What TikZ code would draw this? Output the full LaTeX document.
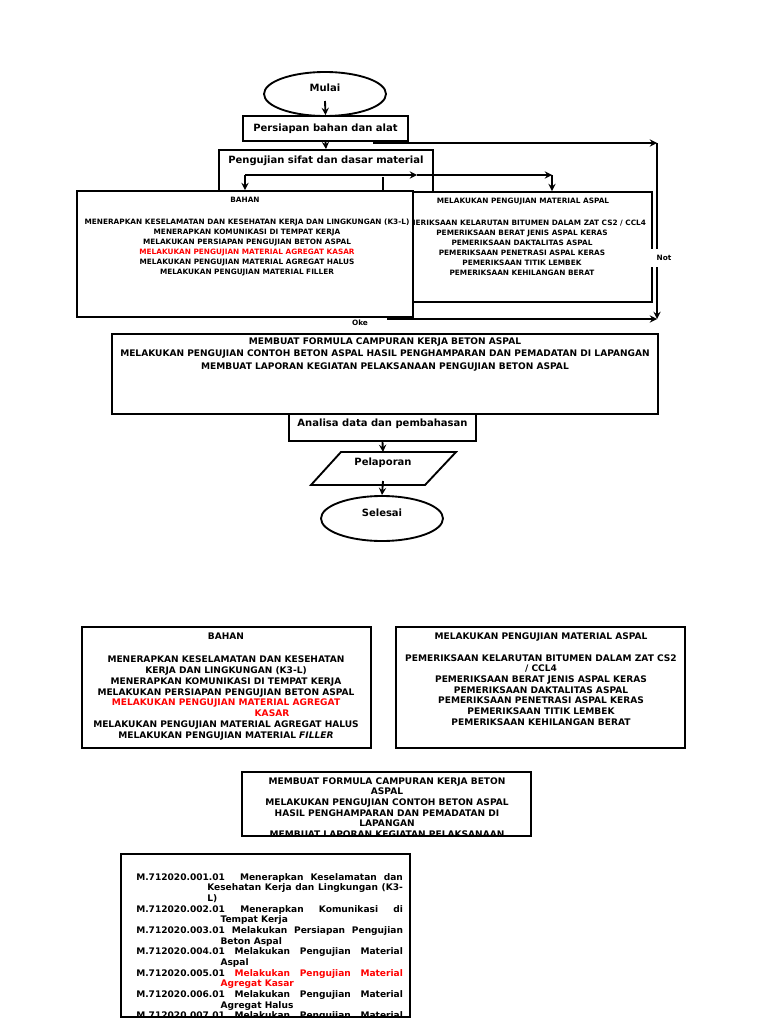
\documentclass[tikz,border=0pt]{standalone}
\usepackage{fontspec}
\setmainfont{DejaVu Sans}
\usetikzlibrary{shapes.geometric}

\tikzset{
  frame/.style={draw, line width=1.4pt, fill=white, inner sep=0pt},
  terminal/.style={draw, ellipse, line width=1.4pt, fill=white, inner sep=0pt},
  lbl/.style={font=\bfseries\fontsize{7.5}{9}\selectfont, inner sep=0pt, anchor=base},
  small/.style={font=\bfseries\fontsize{5.5}{7.4}\selectfont, inner sep=0pt, anchor=base, align=center},
  caps/.style={font=\bfseries\fontsize{6.8}{8.05}\selectfont, inner sep=0pt, anchor=base, align=center},
  codes/.style={font=\bfseries\fontsize{6.8}{8}\selectfont, inner sep=0pt, anchor=base west, align=left},
  arr/.style={line width=1.4pt, -stealth},
  conn/.style={line width=1.4pt},
}

\begin{document}
\begin{tikzpicture}[x=0.75pt, y=-0.75pt]
  \def\px{0.75pt}
  \useasboundingbox (0,0) rectangle (768,1024);

  % flowchart (multi-line texts sit on their last baseline)
  \node[terminal, minimum width=122*\px, minimum height=44*\px] (mulai) at (325,94) {};
  \node[lbl] (mulaiT) at (325,92) {Mulai};
  \node[frame, minimum width=165*\px, minimum height=25*\px] (persiapan) at (325.5,128.5) {};
  \node[lbl] (persiapanT) at (325.5,131) {Persiapan bahan dan alat};
  \node[frame, minimum width=214*\px, minimum height=42*\px] (pengujian) at (326,171) {};
  \node[lbl, anchor=base west] (pengujianT) at (228,163) {Pengujian sifat dan dasar material};

  \node[frame, minimum width=239*\px, minimum height=110*\px] (aspal) at (532.5,247) {};
  \node[small] (aspalT) at (523,203) {MELAKUKAN PENGUJIAN MATERIAL ASPAL};
  \node[small] (aspalL) at (522,275.3) {PEMERIKSAAN KELARUTAN BITUMEN DALAM ZAT CS2 / CCL4\\
    PEMERIKSAAN BERAT JENIS ASPAL KERAS\\ PEMERIKSAAN DAKTALITAS ASPAL\\
    PEMERIKSAAN PENETRASI ASPAL KERAS\\ PEMERIKSAAN TITIK LEMBEK\\
    PEMERIKSAAN KEHILANGAN BERAT};

  \node[frame, minimum width=336*\px, minimum height=126*\px] (bahan) at (245,254) {};
  \node[small] (bahanT) at (245,202) {BAHAN};
  \node[small] (bahanL) at (247,274.3) {MENERAPKAN KESELAMATAN DAN KESEHATAN KERJA DAN LINGKUNGAN (K3-L)\\
    MENERAPKAN KOMUNIKASI DI TEMPAT KERJA\\ MELAKUKAN PERSIAPAN PENGUJIAN BETON ASPAL\\
    \textcolor{red}{MELAKUKAN PENGUJIAN MATERIAL AGREGAT KASAR}\\
    MELAKUKAN PENGUJIAN MATERIAL AGREGAT HALUS\\ MELAKUKAN PENGUJIAN MATERIAL FILLER};

  \coordinate (persR) at (373,143);
  \coordinate (cTR) at (657,143);
  \coordinate (cBR) at (657,319);
  \coordinate (okeS) at (387,319);
  \coordinate (sL) at (245,175);
  \coordinate (sM) at (417,175);
  \coordinate (sR) at (552,175);
  \coordinate (sV) at (383,177);

  \draw[arr] (mulai.center) ++(0,7) -- (persiapan.north);
  \draw[arr] (persiapan.south) -- (pengujian.north);
  \draw[arr] (persR) -- (cTR);
  \draw[arr] (cTR) -- (cBR);
  \draw[arr] (okeS) -- (cBR);
  \draw[arr] (sL) -- (sM);
  \draw[arr] (sM) -- (sR);
  \draw[arr] (sR) -- (aspal.north -| sR);
  \draw[arr] (sL) -- (bahan.north -| sL);
  \draw[conn] (sV) -- (bahan.north -| sV);
  \node[small, anchor=center, fill=white, inner xsep=4.5pt, inner ysep=5pt] (notL) at (664,258) {Not};
  \node[small] (okeL) at (360,325) {Oke};

  \node[frame, minimum width=546*\px, minimum height=80*\px] (membuat) at (385,374) {};
  \node[caps, font=\bfseries\fontsize{6.8}{9.4}\selectfont] (membuatT) at (385,369.1) {MEMBUAT FORMULA CAMPURAN KERJA BETON ASPAL\\
    MELAKUKAN PENGUJIAN CONTOH BETON ASPAL HASIL PENGHAMPARAN DAN PEMADATAN DI LAPANGAN\\
    MEMBUAT LAPORAN KEGIATAN PELAKSANAAN PENGUJIAN BETON ASPAL};

  \node[frame, minimum width=187*\px, minimum height=27*\px] (analisa) at (382.5,427.5) {};
  \node[lbl] (analisaT) at (382.5,426.5) {Analisa data dan pembahasan};

  \coordinate (plTop) at (383,452);
  \coordinate (plBot) at (383,481);
  \draw[conn] (341,452) -- (456,452) -- (425,485) -- (311,485) -- cycle;
  \node[lbl] (pelaporan) at (383,465) {Pelaporan};
  \node[terminal, minimum width=122*\px, minimum height=45*\px] (selesai) at (382,518.5) {};
  \node[lbl] (selesaiT) at (382,516) {Selesai};
  \draw[arr] (analisa.south) -- (plTop);
  \draw[arr] (plBot) -- (selesai.north);

  % detail boxes
  \node[frame, minimum width=289*\px, minimum height=121*\px] (bahanB) at (226.5,687.5) {};
  \node[caps] (bahanBT) at (226,639) {BAHAN};
  \node[caps] (bahanBL) at (226,738.1) {MENERAPKAN KESELAMATAN DAN KESEHATAN\\
    KERJA DAN LINGKUNGAN (K3-L)\\ MENERAPKAN KOMUNIKASI DI TEMPAT KERJA\\
    MELAKUKAN PERSIAPAN PENGUJIAN BETON ASPAL\\
    \textcolor{red}{MELAKUKAN PENGUJIAN MATERIAL AGREGAT}\\
    \hspace*{69pt}\textcolor{red}{KASAR}\\
    MELAKUKAN PENGUJIAN MATERIAL AGREGAT HALUS\\
    MELAKUKAN PENGUJIAN MATERIAL \textit{FILLER}};

  \node[frame, minimum width=289*\px, minimum height=121*\px] (aspalB) at (540.5,687.5) {};
  \node[caps] (aspalBT) at (541,639) {MELAKUKAN PENGUJIAN MATERIAL ASPAL};
  \node[caps] (aspalBL) at (541,725.4) {PEMERIKSAAN KELARUTAN BITUMEN DALAM ZAT CS2\\
    / CCL4\\ PEMERIKSAAN BERAT JENIS ASPAL KERAS\\ PEMERIKSAAN DAKTALITAS ASPAL\\
    PEMERIKSAAN PENETRASI ASPAL KERAS\\ PEMERIKSAAN TITIK LEMBEK\\
    PEMERIKSAAN KEHILANGAN BERAT};

  \node[frame, minimum width=289*\px, minimum height=64*\px] (membuatB) at (386.5,804) {};
  \begin{scope}
    \clip (244,774) rectangle (529,835);
    \node[caps] (membuatBT) at (387,837.7) {MEMBUAT FORMULA CAMPURAN KERJA BETON\\ ASPAL\\
      MELAKUKAN PENGUJIAN CONTOH BETON ASPAL\\ HASIL PENGHAMPARAN DAN PEMADATAN DI\\
      LAPANGAN\\ MEMBUAT LAPORAN KEGIATAN PELAKSANAAN};
  \end{scope}

  \node[frame, minimum width=289*\px, minimum height=163*\px] (kode) at (265.5,935.5) {};
  \begin{scope}
    \clip (123,856) rectangle (408,1015);
    \node[codes] (kodeT) at (136,1018.7) {%
      \makebox[200pt][s]{M.712020.001.01\hspace{6pt} Menerapkan Keselamatan dan}\\
      \hspace*{53.25pt}\makebox[146.7pt][s]{Kesehatan Kerja dan Lingkungan (K3-}\\
      \hspace*{53.25pt}L)\\
      \makebox[200pt][s]{M.712020.002.01 Menerapkan Komunikasi di}\\
      \hspace*{63.2pt}Tempat Kerja\\
      \makebox[200pt][s]{M.712020.003.01 Melakukan Persiapan Pengujian}\\
      \hspace*{63.2pt}Beton Aspal\\
      \makebox[200pt][s]{M.712020.004.01 Melakukan Pengujian Material}\\
      \hspace*{63.2pt}Aspal\\
      \makebox[200pt][s]{M.712020.005.01 \textcolor{red}{Melakukan Pengujian Material}}\\
      \hspace*{63.2pt}\textcolor{red}{Agregat Kasar}\\
      \makebox[200pt][s]{M.712020.006.01 Melakukan Pengujian Material}\\
      \hspace*{63.2pt}Agregat Halus\\
      \makebox[200pt][s]{M.712020.007.01 Melakukan Pengujian Material}};
  \end{scope}
\end{tikzpicture}
\end{document}
